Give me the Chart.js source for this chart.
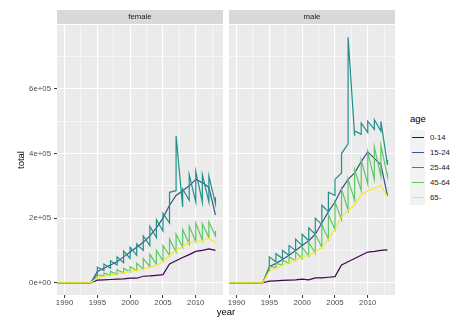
<!DOCTYPE html>
<html lang="en">
<head>
<meta charset="UTF-8">
<title>TB cases by year, sex and age</title>
<script src="https://cdn.jsdelivr.net/npm/chart.js"></script>
<style>
    body { margin: 0; background: #fff; font-family: "Liberation Sans", Arial, sans-serif; }
    #wrap { position: relative; width: 474px; height: 325px; }
    canvas { position: absolute; top: 0; }
    #xTitle { position: absolute; left: 200px; width: 52px; top: 306px; text-align: center; font-size: 9.5px; color: #000; }
    #legend { position: absolute; left: 410px; top: 113px; }
    .legend-title { font-size: 9.5px; color: #000; height: 17px; }
    .legend-row { height: 15px; display: flex; align-items: center; }
    .legend-key { width: 15px; height: 15px; background: #f2f2f2; position: relative; }
    .legend-key span { position: absolute; left: 1.5px; right: 1.5px; top: 7px; height: 1.2px; }
    .legend-label { font-size: 7.8px; color: #1A1A1A; margin-left: 5px; }
</style>
</head>
<body>
<div id="wrap">
    <canvas id="femaleChart" width="226" height="325" style="left:0"></canvas>
    <canvas id="maleChart" width="172" height="325" style="left:226px"></canvas>
    <div id="xTitle">year</div>
    <div id="legend"></div>
</div>

<script>
    // years with data (everything before 1994 is zero)
    const years = [1980, 1994, 1995, 1996, 1997, 1998, 1999, 2000, 2001, 2002, 2003,
                   2004, 2005, 2006, 2007, 2008, 2009, 2010, 2011, 2012, 2013];
    const ageGroups = ['0-14', '15-24', '25-44', '45-64', '65-'];
    const ageColors = ['#440154', '#3B528B', '#21908C', '#5DC863', '#FDE725'];

    // female
    const female014 = [0, 0, 8000, 9000, 10000, 11000, 12000, 14000, 14000, 20000, 21000,
                       23000, 25000, 58000, 68000, 78000, 87000, 97000, 100000, 105000, 100000];
    const female1524 = [0, 0, 35000, 45000, 55000, 65000, 80000, 95000, 110000, 125000, 145000,
                        170000, 200000, 240000, 270000, 285000, 300000, 320000, 310000, 295000, 210000];
    const female2544Low = [0, 0, 25000, 38000, 45000, 55000, 62000, 75000, 85000, 100000, 115000,
                           140000, 160000, 185000, 285000, 235000, 255000, 250000, 250000, 250000, 245000];
    const female2544High = [0, 0, 48000, 58000, 68000, 80000, 98000, 110000, 120000, 145000, 175000,
                            195000, 215000, 280000, 455000, 290000, 335000, 345000, 335000, 330000, 265000];
    const female4564Low = [0, 0, 15000, 20000, 23000, 26000, 30000, 33000, 37000, 42000, 50000,
                           58000, 68000, 85000, 95000, 110000, 120000, 128000, 132000, 140000, 145000];
    const female4564High = [0, 0, 25000, 30000, 35000, 40000, 45000, 50000, 60000, 75000, 88000,
                            100000, 115000, 135000, 150000, 165000, 175000, 185000, 182000, 188000, 160000];
    const female65 = [0, 0, 15000, 20000, 24000, 27000, 31000, 35000, 38000, 42000, 48000,
                      55000, 65000, 85000, 100000, 112000, 125000, 128000, 130000, 138000, 125000];

    // male
    const male014 = [0, 0, 5000, 6000, 7000, 8000, 9000, 11000, 9000, 15000, 15000,
                     17000, 19000, 55000, 65000, 75000, 85000, 95000, 97000, 100000, 102000];
    const male1524 = [0, 0, 50000, 60000, 72000, 85000, 100000, 115000, 130000, 150000, 185000,
                      220000, 250000, 290000, 320000, 340000, 375000, 405000, 385000, 365000, 270000];
    const male2544Low = [0, 0, 45000, 65000, 75000, 85000, 100000, 115000, 130000, 150000, 180000,
                         220000, 270000, 340000, 430000, 455000, 460000, 465000, 475000, 470000, 365000];
    const male2544High = [0, 0, 80000, 90000, 100000, 115000, 135000, 150000, 170000, 200000, 240000,
                          280000, 320000, 400000, 760000, 470000, 495000, 500000, 505000, 500000, 380000];
    const male4564Low = [0, 0, 40000, 48000, 55000, 60000, 68000, 75000, 82000, 92000, 110000,
                         135000, 165000, 195000, 225000, 255000, 285000, 305000, 320000, 330000, 330000];
    const male4564High = [0, 0, 50000, 60000, 70000, 80000, 95000, 110000, 125000, 150000, 180000,
                          210000, 250000, 290000, 320000, 350000, 380000, 405000, 420000, 425000, 340000];
    const male65 = [0, 0, 35000, 45000, 55000, 62000, 70000, 80000, 85000, 95000, 110000,
                    135000, 165000, 205000, 225000, 240000, 272000, 285000, 292000, 302000, 265000];

    // axes
    const xMajor = [1990, 1995, 2000, 2005, 2010];
    const xMinor = [1992.5, 1997.5, 2002.5, 2007.5, 2012.5];
    const yMajor = [0, 200000, 400000, 600000];
    const yMinor = [100000, 300000, 500000, 700000];
    const yLabels = ['0e+00', '2e+05', '4e+05', '6e+05'];

    function smooth(vals) {
        return years.map((yr, i) => ({ x: yr, y: vals[i] }));
    }
    // two values per year, joined in data order (the ungrouped geom_line look)
    function zigzag(lo, hi) {
        return years.flatMap((yr, i) => [{ x: yr, y: lo[i] }, { x: yr, y: hi[i] }]);
    }

    // grey panel + facet strip
    const facetPlugin = {
        id: 'facet',
        beforeDraw(chart, args, opts) {
            const { ctx, chartArea: a } = chart;
            ctx.save();
            ctx.fillStyle = '#EBEBEB';
            ctx.fillRect(a.left, a.top, a.right - a.left, a.bottom - a.top);
            ctx.fillStyle = '#D9D9D9';
            ctx.fillRect(a.left, 10, a.right - a.left, a.top - 11);
            ctx.fillStyle = '#1A1A1A';
            ctx.font = '7.8px "Liberation Sans", Arial, sans-serif';
            ctx.textAlign = 'center';
            ctx.textBaseline = 'middle';
            ctx.fillText(opts.text, (a.left + a.right) / 2, (10 + a.top - 1) / 2);
            ctx.restore();
        }
    };

    const tickFont = { family: '"Liberation Sans", Arial, sans-serif', size: 7.8 };

    function makePanel(canvasId, name, series, showY) {
        const datasets = series.map((data, i) => ({
            label: ageGroups[i],
            data: data,
            borderColor: ageColors[i],
            borderWidth: 1.2,
            pointRadius: 0,
            tension: 0,
            fill: false,
            order: ageGroups.length - i
        }));
        return new Chart(document.getElementById(canvasId), {
            type: 'line',
            data: { datasets: datasets },
            options: {
                responsive: false,
                animation: false,
                layout: { padding: { top: 25, right: 3, left: 0, bottom: 0 } },
                plugins: {
                    legend: { display: false },
                    tooltip: { enabled: false },
                    facet: { text: name }
                },
                scales: {
                    x: {
                        type: 'linear',
                        min: 1988.85,
                        max: 2014.15,
                        afterBuildTicks: s => { s.ticks = xMajor.concat(xMinor).sort((a, b) => a - b).map(v => ({ value: v })); },
                        afterFit: s => { s.height = 30; },
                        border: { display: false },
                        grid: {
                            color: '#FFFFFF',
                            lineWidth: c => xMajor.includes(c.tick.value) ? 1.1 : 0.55,
                            tickLength: 3,
                            tickWidth: 1,
                            tickColor: c => xMajor.includes(c.tick.value) ? '#333333' : 'rgba(0,0,0,0)'
                        },
                        ticks: {
                            autoSkip: false,
                            maxRotation: 0,
                            padding: 0,
                            color: '#4D4D4D',
                            font: tickFont,
                            callback: v => xMajor.includes(v) ? String(v) : ''
                        }
                    },
                    y: {
                        type: 'linear',
                        min: -38000,
                        max: 798000,
                        afterBuildTicks: s => { s.ticks = yMajor.concat(yMinor).sort((a, b) => a - b).map(v => ({ value: v })); },
                        afterFit: s => { s.width = showY ? 57 : 3; },
                        border: { display: false },
                        grid: {
                            color: '#FFFFFF',
                            lineWidth: c => yMajor.includes(c.tick.value) ? 1.1 : 0.55,
                            drawTicks: showY,
                            tickLength: 3,
                            tickWidth: 1,
                            tickColor: c => yMajor.includes(c.tick.value) ? '#333333' : 'rgba(0,0,0,0)'
                        },
                        ticks: {
                            display: showY,
                            autoSkip: false,
                            padding: 3,
                            color: '#4D4D4D',
                            font: tickFont,
                            callback: v => {
                                const i = yMajor.indexOf(v);
                                return i >= 0 ? yLabels[i] : '';
                            }
                        },
                        title: {
                            display: showY,
                            text: 'total',
                            color: '#000',
                            font: { family: '"Liberation Sans", Arial, sans-serif', size: 9.5 },
                            padding: { top: 16, bottom: 0 }
                        }
                    }
                }
            },
            plugins: [facetPlugin]
        });
    }

    makePanel('femaleChart', 'female', [
        smooth(female014), smooth(female1524), zigzag(female2544Low, female2544High),
        zigzag(female4564Low, female4564High), smooth(female65)
    ], true);

    makePanel('maleChart', 'male', [
        smooth(male014), smooth(male1524), zigzag(male2544Low, male2544High),
        zigzag(male4564Low, male4564High), smooth(male65)
    ], false);

    // legend
    const legend = document.getElementById('legend');
    legend.innerHTML = '<div class="legend-title">age</div>' + ageGroups.map((g, i) =>
        '<div class="legend-row"><div class="legend-key"><span style="background:' + ageColors[i] +
        '"></span></div><div class="legend-label">' + g + '</div></div>').join('');
</script>
</body>
</html>
